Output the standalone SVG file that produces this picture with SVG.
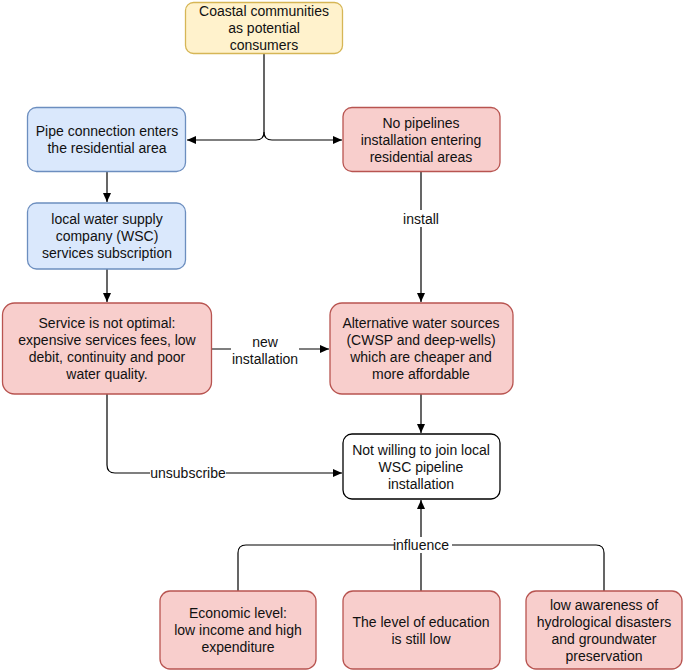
<svg xmlns="http://www.w3.org/2000/svg" width="685" height="672" viewBox="0 0 685 672">
<style>
text{font-family:"Liberation Sans",Arial,Helvetica,sans-serif;font-size:14px;fill:#111;text-anchor:middle}
.n rect{stroke-width:1.3}
.y{fill:#fff2cc;stroke:#d6b656}
.b{fill:#dae8fc;stroke:#6c8ebf}
.r{fill:#f8cecc;stroke:#b85450}
.w{fill:#ffffff;stroke:#000000}
.e{fill:none;stroke:#000;stroke-width:1.2}
.lb{fill:#ffffff;stroke:none}
</style>
<defs>
<marker id="a" markerUnits="userSpaceOnUse" markerWidth="10" markerHeight="8" refX="9" refY="4" orient="auto">
<path d="M0,0 L9,4 L0,8 Z" fill="#000"/>
</marker>
</defs>
<rect width="685" height="672" fill="#ffffff"/>
<g id="connectors">
<path class="e" d="M264,54 V132 Q264,140 256,140 H187" marker-end="url(#a)"/>
<path class="e" d="M264,132 Q264,140 272,140 H342" marker-end="url(#a)"/>
<path class="e" d="M107,172 V202" marker-end="url(#a)"/>
<path class="e" d="M107,269 V302" marker-end="url(#a)"/>
<path class="e" d="M421,172 V302" marker-end="url(#a)"/>
<path class="e" d="M212,349 H329" marker-end="url(#a)"/>
<path class="e" d="M421,394 V433" marker-end="url(#a)"/>
<path class="e" d="M107,394 V465 Q107,473 115,473 H342" marker-end="url(#a)"/>
<path class="e" d="M238,591 V553 Q238,545 246,545 H596 Q604,545 604,553 V591"/>
<path class="e" d="M421,591 V500" marker-end="url(#a)"/>
<rect class="lb" x="402" y="210" width="38" height="17"/>
<text x="421" y="224">install</text>
<rect class="lb" x="231" y="332" width="68" height="34"/>
<text x="265" y="347">new</text>
<text x="265" y="364">installation</text>
<rect class="lb" x="150" y="465" width="76" height="16"/>
<text x="188" y="478">unsubscribe</text>
<rect class="lb" x="394" y="537" width="58" height="16"/>
<text x="421" y="550">influence</text>
</g>
<g id="n1" class="n"><rect class="y" x="185.5" y="2.5" width="157" height="51" rx="8"/>
<text x="264" y="16">Coastal communities</text><text x="264" y="33">as potential</text><text x="264" y="50">consumers</text></g>
<g id="n2" class="n"><rect class="b" x="27.5" y="107.5" width="158" height="64" rx="9"/>
<text x="107" y="136">Pipe connection enters</text><text x="107" y="153">the residential area</text></g>
<g id="n3" class="n"><rect class="r" x="343" y="107.5" width="157" height="64" rx="9"/>
<text x="421" y="127.5">No pipelines</text><text x="421" y="144.5">installation entering</text><text x="421" y="161.5">residential areas</text></g>
<g id="n4" class="n"><rect class="b" x="27.5" y="203" width="158" height="66" rx="9"/>
<text x="107" y="224">local water supply</text><text x="107" y="241">company (WSC)</text><text x="107" y="258">services subscription</text></g>
<g id="n5" class="n"><rect class="r" x="2.5" y="303" width="209" height="91" rx="12"/>
<text x="107" y="328">Service is not optimal:</text><text x="107" y="345">expensive services fees, low</text><text x="107" y="362">debit, continuity and poor</text><text x="107" y="379">water quality.</text></g>
<g id="n6" class="n"><rect class="r" x="330" y="303" width="183" height="91" rx="12"/>
<text x="421" y="328">Alternative water sources</text><text x="421" y="345">(CWSP and deep-wells)</text><text x="421" y="362">which are cheaper and</text><text x="421" y="379">more affordable</text></g>
<g id="n7" class="n"><rect class="w" x="343" y="434" width="157" height="65" rx="9"/>
<text x="421" y="454.5">Not willing to join local</text><text x="421" y="471.5">WSC pipeline</text><text x="421" y="488.5">installation</text></g>
<g id="n8" class="n"><rect class="r" x="160" y="591" width="156" height="78" rx="10"/>
<text x="238" y="618">Economic level:</text><text x="238" y="635">low income and high</text><text x="238" y="652">expenditure</text></g>
<g id="n9" class="n"><rect class="r" x="343" y="591" width="157" height="78" rx="10"/>
<text x="421" y="626.5">The level of education</text><text x="421" y="643.5">is still low</text></g>
<g id="n10" class="n"><rect class="r" x="526" y="591" width="156" height="78" rx="10"/>
<text x="604" y="609.5">low awareness of</text><text x="604" y="626.5">hydrological disasters</text><text x="604" y="643.5">and groundwater</text><text x="604" y="660.5">preservation</text></g>
</svg>
